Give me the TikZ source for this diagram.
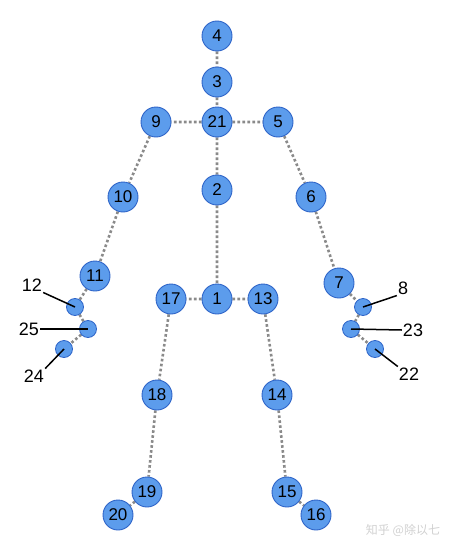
\documentclass[tikz,border=0pt]{standalone}
\usepackage{fontspec}
\setmainfont{Liberation Sans}
\newfontfamily\cjkfont{Noto Sans CJK SC}
\usetikzlibrary{backgrounds}
\definecolor{jfill}{HTML}{5C9CEC}
\definecolor{jdraw}{HTML}{2E64C8}
\definecolor{bonegray}{HTML}{8A8A8A}
\tikzset{
  big/.style={circle,fill=jfill,draw=jdraw,line width=0.9pt,minimum size=30pt,inner sep=0pt,font=\fontsize{17}{17}\selectfont},
  small/.style={circle,fill=jfill,draw=jdraw,line width=0.8pt,minimum size=17pt,inner sep=0pt},
  bone/.style={draw=bonegray,line width=2.6pt,dash pattern=on 2.6pt off 2.4pt},
  lab/.style={font=\fontsize{18}{18}\selectfont,inner sep=1pt},
  pointer/.style={draw=black,line width=1.5pt}
}
\begin{document}
\begin{tikzpicture}[x=1pt,y=-1pt]
\useasboundingbox (0,0) rectangle (456,551);
\node[big] (n4) at (217,36) {4};
\node[big] (n3) at (217,82) {3};
\node[big] (n21) at (217,122) {21};
\node[big] (n9) at (156,122) {9};
\node[big] (n5) at (278,122) {5};
\node[big] (n2) at (217,190) {2};
\node[big] (n10) at (123,197) {10};
\node[big] (n6) at (311,197) {6};
\node[big] (n11) at (95,276) {11};
\node[big] (n7) at (339,283) {7};
\node[big] (n1) at (217,299) {1};
\node[big] (n17) at (171,299) {17};
\node[big] (n13) at (263,299) {13};
\node[small] (n12) at (75,307) {};
\node[small] (n25) at (88,329) {};
\node[small] (n24) at (64,349) {};
\node[small] (n8) at (363,307) {};
\node[small] (n23) at (351,329) {};
\node[small] (n22) at (375,349) {};
\node[big] (n18) at (157,395) {18};
\node[big] (n14) at (277,395) {14};
\node[big] (n19) at (147,492) {19};
\node[big] (n20) at (118,515) {20};
\node[big] (n15) at (287,492) {15};
\node[big] (n16) at (316,515) {16};
\begin{pgfonlayer}{background}
\draw[bone] (n4)--(n3) (n3)--(n21) (n21)--(n9) (n21)--(n5) (n21)--(n2) (n2)--(n1)
  (n1)--(n17) (n1)--(n13) (n9)--(n10) (n10)--(n11) (n11)--(n12) (n12)--(n25) (n25)--(n24)
  (n5)--(n6) (n6)--(n7) (n7)--(n8) (n8)--(n23) (n23)--(n22)
  (n17)--(n18) (n18)--(n19) (n19)--(n20) (n13)--(n14) (n14)--(n15) (n15)--(n16);
\end{pgfonlayer}
\node[lab] (l12) at (32,285) {12};
\node[lab] (l25) at (29,329) {25};
\node[lab] (l24) at (34,376) {24};
\node[lab] (l8) at (403,288) {8};
\node[lab] (l23) at (413,330) {23};
\node[lab] (l22) at (409,374) {22};
\draw[pointer] (l12.south east) -- (n12.center);
\draw[pointer] (l25.east) -- (n25.center);
\draw[pointer] (l24.north east) -- (n24.center);
\draw[pointer] (l8.south west) -- (n8.center);
\draw[pointer] (l23.west) -- (n23.center);
\draw[pointer] (l22.north west) -- (n22.center);
\node[text=black!18,font=\cjkfont\fontsize{12}{12}\selectfont] (wm) at (403,530) {知乎 @除以七};
\end{tikzpicture}
\end{document}
